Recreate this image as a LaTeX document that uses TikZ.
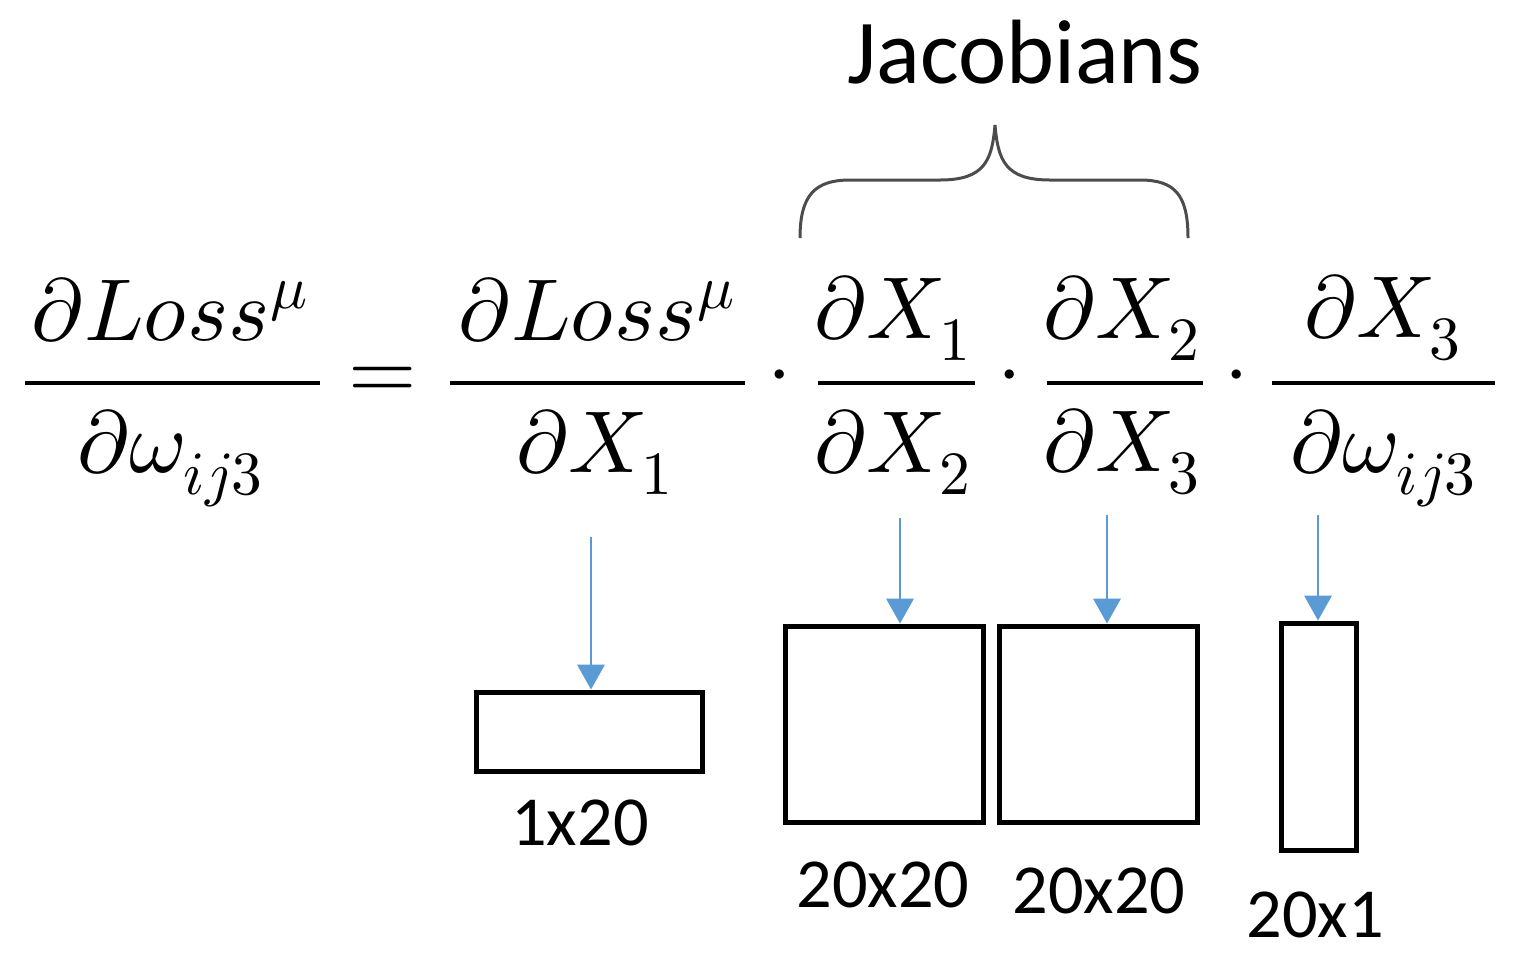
\documentclass[tikz,border=0pt]{standalone}
\usepackage{fontspec}
\usepackage{unicode-math}
\setmathfont{Latin Modern Math}
\newfontfamily\carfont{Carlito}
\usetikzlibrary{arrows.meta}
\definecolor{ablue}{RGB}{91,155,213}
\begin{document}
\begin{tikzpicture}[x=0.02cm,y=-0.02cm,
  m/.style={inner sep=0pt,font=\fontsize{50}{56}\selectfont},
  fl/.style={line width=0.09cm},
  bx/.style={draw,line width=0.1cm},
  ar/.style={draw=ablue,line width=0.04cm,-{Triangle[width=0.55cm,length=0.5cm]}},
  lb/.style={inner sep=0pt,font=\carfont\fontsize{40}{46}\selectfont}]
\useasboundingbox (0,0) rectangle (1514,975);
% fractions
\draw[fl] (25,383) -- (320,383);
\node[m] (n1) at (170,310) {$\partial Loss^{\mu}$};
\node[m] (d1) at (170,458) {$\partial\omega_{ij3}$};
\node[m] (eq) at (383,383) {$=$};
\draw[fl] (450,383) -- (745,383);
\node[m] (n2) at (597,310) {$\partial Loss^{\mu}$};
\node[m] (d2) at (595,452) {$\partial X_1$};
\node[m] (c1) at (780,383) {$\cdot$};
\draw[fl] (818,383) -- (975,383);
\node[m] (n3) at (893,318) {$\partial X_1$};
\node[m] (d3) at (893,452) {$\partial X_2$};
\node[m] (c2) at (1010,383) {$\cdot$};
\draw[fl] (1047,383) -- (1203,383);
\node[m] (n4) at (1122,318) {$\partial X_2$};
\node[m] (d4) at (1122,452) {$\partial X_3$};
\node[m] (c3) at (1237,383) {$\cdot$};
\draw[fl] (1272,383) -- (1495,383);
\node[m] (n5) at (1383,318) {$\partial X_3$};
\node[m] (d5) at (1383,458) {$\partial\omega_{ij3}$};
% brace
\draw[line width=0.06cm,black!70] (800,238) .. controls (800,195) and (815,180) .. (850,180)
  -- (940,180) .. controls (985,180) and (992,160) .. (995,125)
  .. controls (998,160) and (1005,180) .. (1050,180)
  -- (1140,180) .. controls (1175,180) and (1188,195) .. (1188,238);
\node[lb,font=\carfont\fontsize{52}{58}\selectfont] (jac) at (1025,52) {Jacobians};
% boxes
\node[bx,minimum width=4.54cm,minimum height=1.58cm,inner sep=0pt] (b1) at (589.5,731.5) {};
\node[bx,minimum width=3.98cm,minimum height=3.94cm,inner sep=0pt] (b2) at (884.5,724.5) {};
\node[bx,minimum width=3.98cm,minimum height=3.94cm,inner sep=0pt] (b3) at (1098.5,724.5) {};
\node[bx,minimum width=1.5cm,minimum height=4.56cm,inner sep=0pt] (b4) at (1318.5,737) {};
\coordinate (s1) at (591,537);
\coordinate (s2) at (900,518);
\coordinate (s3) at (1107,515);
\coordinate (s4) at (1318,515);
\draw[ar] (s1) -- (b1.north -| s1);
\draw[ar] (s2) -- (b2.north -| s2);
\draw[ar] (s3) -- (b3.north -| s3);
\draw[ar] (s4) -- (b4.north -| s4);
\node[lb] (l1) at (580,823) {1x20};
\node[lb] (l2) at (883,885) {20x20};
\node[lb] (l3) at (1099,891) {20x20};
\node[lb] (l4) at (1315,915) {20x1};
\end{tikzpicture}
\end{document}
